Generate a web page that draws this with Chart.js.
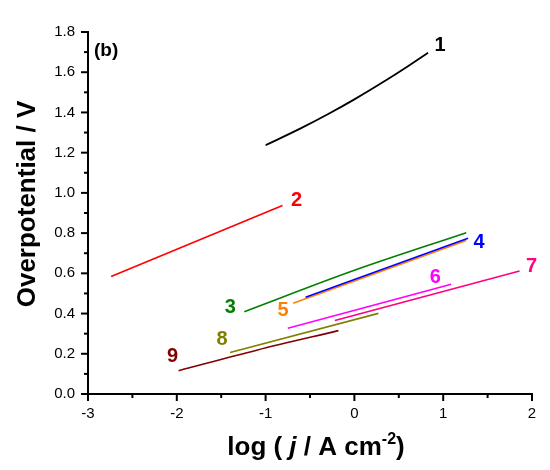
<!DOCTYPE html>
<html>
<head>
<meta charset="utf-8">
<script src="https://cdn.jsdelivr.net/npm/chart.js@4.4.0/dist/chart.umd.min.js"></script>
<style>
  body { margin: 0; background: #fff; }
  #wrap { width: 550px; height: 470px; position: relative; }
</style>
</head>
<body>
<div id="wrap"><canvas id="tafel"></canvas></div>
<script>
// --- Daten ---
const curveNames = ["1", "2", "3", "4", "5", "6", "7", "8", "9"];

const logJ1 = [-1.0, -0.6, -0.3, 0.0, 0.36, 0.59, 0.83];
const eta1  = [1.237, 1.322, 1.391, 1.465, 1.561, 1.626, 1.697];
const logJ2 = [-2.74, -0.81];
const eta2  = [0.584, 0.937];
const logJ3 = [-1.24, 0.0, 1.26];
const eta3  = [0.409, 0.615, 0.802];
const logJ4 = [-0.55, 1.28];
const eta4  = [0.481, 0.775];
const logJ5 = [-0.69, 1.26];
const eta5  = [0.451, 0.763];
const logJ6 = [-0.75, 1.09];
const eta6  = [0.327, 0.546];
const logJ7 = [-0.22, 1.86];
const eta7  = [0.365, 0.612];
const logJ8 = [-1.40, 0.27];
const eta8  = [0.206, 0.401];
const logJ9 = [-1.98, -1.1, -0.18];
const eta9  = [0.116, 0.218, 0.315];

const xTicks = [-3, -2, -1, 0, 1, 2];
const yTicks = [0.0, 0.2, 0.4, 0.6, 0.8, 1.0, 1.2, 1.4, 1.6, 1.8];

// --- Darstellung ---
const colors = ["#000000", "#ff0000", "#008000", "#0000ff", "#ff8000",
                "#ff00ff", "#ff0080", "#808000", "#800000"];
// wo die Nummer sitzt: Ende der Kurve + Versatz in Pixel
const labelPlace = [
    { at: "end", dx: 12, dy: -7 },
    { at: "end", dx: 14, dy: -5 },
    { at: "start", dx: -14, dy: -4 },
    { at: "end", dx: 11, dy: 4 },
    { at: "start", dx: -10, dy: 7 },
    { at: "end", dx: -16, dy: -7 },
    { at: "end", dx: 12, dy: -4 },
    { at: "start", dx: -8, dy: -13 },
    { at: "start", dx: -6, dy: -14 }
];

const xs = [logJ1, logJ2, logJ3, logJ4, logJ5, logJ6, logJ7, logJ8, logJ9];
const ys = [eta1, eta2, eta3, eta4, eta5, eta6, eta7, eta8, eta9];

const datasets = curveNames.map((name, i) => ({
    label: name,
    data: xs[i].map((x, k) => ({ x: x, y: ys[i][k] })),
    borderColor: colors[i],
    borderWidth: i === 0 ? 1.8 : 1.6,
    pointRadius: 0,
    tension: 0.4,
    cubicInterpolationMode: "monotone",
    fill: false
}));

const FONT = "'Liberation Sans', Arial, sans-serif";

// Teilstriche (Haupt- und Nebenstriche) nach aussen
const tickPlugin = {
    id: "ticks",
    afterDraw(chart) {
        const ctx = chart.ctx;
        const xs_ = chart.scales.x, ys_ = chart.scales.y;
        const area = chart.chartArea;
        ctx.save();
        ctx.strokeStyle = "#000";
        ctx.lineWidth = 2;
        for (let v = -3; v <= 2.001; v += 0.5) {
            const px = xs_.getPixelForValue(v);
            const len = Math.abs(v - Math.round(v)) < 0.01 ? 7 : 4;
            ctx.beginPath();
            ctx.moveTo(px, area.bottom);
            ctx.lineTo(px, area.bottom + len);
            ctx.stroke();
        }
        for (let k = 0; k <= 18; k++) {
            const py = ys_.getPixelForValue(k / 10);
            const len = k % 2 === 0 ? 7 : 4;
            ctx.beginPath();
            ctx.moveTo(area.left, py);
            ctx.lineTo(area.left - len, py);
            ctx.stroke();
        }
        ctx.restore();
    }
};

// Kurvennummern, (b) und Achsentitel
const textPlugin = {
    id: "texts",
    afterDraw(chart) {
        const ctx = chart.ctx;
        ctx.save();
        ctx.textAlign = "center";
        ctx.textBaseline = "middle";
        ctx.font = "bold 20px " + FONT;
        chart.data.datasets.forEach((ds, i) => {
            const meta = chart.getDatasetMeta(i);
            const pts = meta.data;
            const p = labelPlace[i].at === "end" ? pts[pts.length - 1] : pts[0];
            ctx.fillStyle = colors[i];
            ctx.fillText(ds.label, p.x + labelPlace[i].dx, p.y + labelPlace[i].dy);
        });

        ctx.fillStyle = "#000";
        ctx.textAlign = "left";
        ctx.font = "bold 19px " + FONT;
        ctx.fillText("(b)", 94, 51);

        // y-Titel
        ctx.save();
        ctx.translate(35, 204);
        ctx.rotate(-Math.PI / 2);
        ctx.textAlign = "center";
        ctx.textBaseline = "alphabetic";
        ctx.font = "bold 26px " + FONT;
        ctx.fillText("Overpotential / V", 0, 0);
        ctx.restore();

        // x-Titel mit kursivem j und hochgestelltem -2
        const parts = [
            { t: "log ( ", f: "bold 26px " + FONT, dy: 0 },
            { t: "j", f: "italic bold 26px " + FONT, dy: 0 },
            { t: " / A cm", f: "bold 26px " + FONT, dy: 0 },
            { t: "-2", f: "bold 16px " + FONT, dy: -11 },
            { t: ")", f: "bold 26px " + FONT, dy: 0 }
        ];
        let total = 0;
        parts.forEach(pt => { ctx.font = pt.f; total += ctx.measureText(pt.t).width; });
        let x = 316 - total / 2;
        ctx.textBaseline = "alphabetic";
        parts.forEach(pt => {
            ctx.font = pt.f;
            ctx.fillText(pt.t, x, 455 + pt.dy);
            x += ctx.measureText(pt.t).width;
        });
        ctx.restore();
    }
};

const ctx = document.getElementById("tafel").getContext("2d");
new Chart(ctx, {
    type: "line",
    data: { datasets: datasets },
    options: {
        responsive: true,
        maintainAspectRatio: false,
        animation: false,
        layout: { padding: { left: 0, right: 18, top: 32, bottom: 0 } },
        plugins: {
            legend: { display: false },
            tooltip: { enabled: false }
        },
        scales: {
            x: {
                type: "linear",
                min: -3,
                max: 2,
                afterBuildTicks: (scale) => { scale.ticks = xTicks.map(v => ({ value: v })); },
                afterFit: (scale) => { scale.height = 76; },
                grid: { display: false, drawTicks: false },
                border: { display: true, color: "#000", width: 2 },
                ticks: {
                    padding: 11,
                    color: "#000",
                    font: { family: FONT, size: 15 },
                    callback: (v) => String(v)
                }
            },
            y: {
                type: "linear",
                min: 0,
                max: 1.8,
                afterBuildTicks: (scale) => { scale.ticks = yTicks.map(v => ({ value: v })); },
                afterFit: (scale) => { scale.width = 88; },
                grid: { display: false, drawTicks: false },
                border: { display: true, color: "#000", width: 2 },
                ticks: {
                    padding: 13,
                    color: "#000",
                    font: { family: FONT, size: 15 },
                    callback: (v) => v.toFixed(1)
                }
            }
        }
    },
    plugins: [tickPlugin, textPlugin]
});
</script>
</body>
</html>
